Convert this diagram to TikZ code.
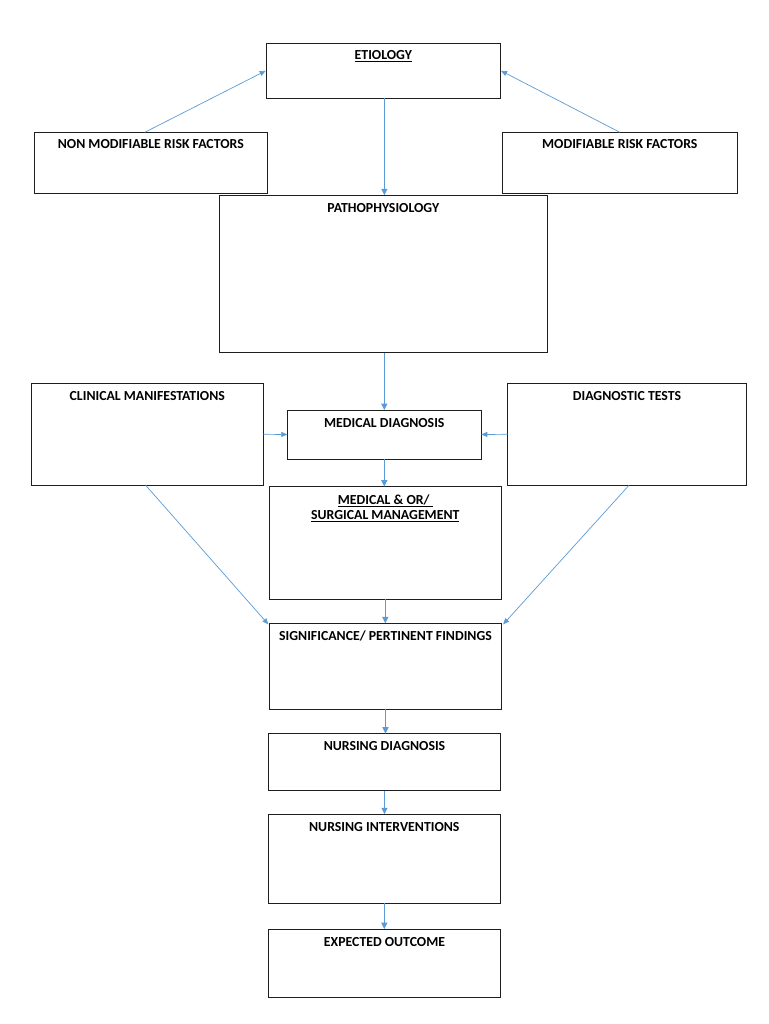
\documentclass[tikz,border=0pt]{standalone}
\usepackage{fontspec}
\setmainfont{Carlito}
\usetikzlibrary{arrows.meta}
\definecolor{arrblue}{RGB}{91,155,213}
\definecolor{boxline}{RGB}{30,30,30}
\tikzset{
  box/.style={draw=boxline, line width=0.9pt, rectangle, anchor=north west, inner sep=0pt, outer sep=0pt},
  lbl/.style={anchor=north, inner sep=0pt, outer sep=0pt, align=center, font=\fontsize{13.8}{15.5}\selectfont\bfseries},
  arr/.style={draw=arrblue, line width=1.3pt, -{Triangle[length=6.5pt,width=6pt]}},
  thinarr/.style={draw=arrblue, line width=0.7pt, -{Triangle[length=6pt,width=5pt]}}
}
\begin{document}
\begin{tikzpicture}[x=1pt,y=-1pt]
\useasboundingbox[fill=white] (0,0) rectangle (768,1024);
% boxes
\node[box, minimum width=233.3pt, minimum height=55pt]  (etio)    at (266.7,43.3) {};
\node[box, minimum width=233pt,   minimum height=61pt]  (nonmod)  at (34.3,132.3) {};
\node[box, minimum width=235pt,   minimum height=61pt]  (mod)     at (502.3,132.3) {};
\node[box, minimum width=328pt,   minimum height=157.4pt] (patho) at (219.3,195.3) {};
\node[box, minimum width=232pt,   minimum height=102pt] (clin)    at (31.3,383.3) {};
\node[box, minimum width=194pt,   minimum height=49pt]  (meddx)   at (287.3,410) {};
\node[box, minimum width=238.6pt, minimum height=102pt] (diag)    at (507.7,383.3) {};
\node[box, minimum width=232pt,   minimum height=112.3pt] (mgmt)  at (269.3,486.7) {};
\node[box, minimum width=232.4pt, minimum height=85.7pt] (signif) at (269.3,623.3) {};
\node[box, minimum width=232.4pt, minimum height=57pt]  (nursdx)  at (268.3,733.7) {};
\node[box, minimum width=232pt,   minimum height=89pt]  (nursint) at (268.3,814.3) {};
\node[box, minimum width=232.4pt, minimum height=68pt]  (expect)  at (268.3,929) {};
% labels
\node[lbl] (etioT)    at ([yshift=-7.5pt]etio.north)    {\underline{ETIOLOGY}};
\node[lbl] (nonmodT)  at ([yshift=-7.5pt]nonmod.north)  {NON MODIFIABLE RISK FACTORS};
\node[lbl] (modT)     at ([yshift=-7.5pt]mod.north)     {MODIFIABLE RISK FACTORS};
\node[lbl] (pathoT)   at ([yshift=-8pt]patho.north)     {PATHOPHYSIOLOGY};
\node[lbl] (clinT)    at ([yshift=-8pt]clin.north)      {CLINICAL MANIFESTATIONS};
\node[lbl] (meddxT)   at ([yshift=-8pt]meddx.north)     {MEDICAL DIAGNOSIS};
\node[lbl] (diagT)    at ([yshift=-8pt]diag.north)      {DIAGNOSTIC TESTS};
\node[lbl] (mgmtT)    at ([yshift=-8pt]mgmt.north)      {\underline{MEDICAL \& OR/\ }\\[0pt]\underline{SURGICAL MANAGEMENT}};
\node[lbl] (signifT)  at ([yshift=-8pt]signif.north)    {SIGNIFICANCE/ PERTINENT FINDINGS};
\node[lbl] (nursdxT)  at ([yshift=-8pt]nursdx.north)    {NURSING DIAGNOSIS};
\node[lbl] (nursintT) at ([yshift=-8pt]nursint.north)   {NURSING INTERVENTIONS};
\node[lbl] (expectT)  at ([yshift=-8pt]expect.north)    {EXPECTED OUTCOME};
% connectors
\draw[thinarr] ([xshift=-6pt]nonmod.north) -- ([xshift=-1pt]etio.west);
\draw[thinarr] (mod.north) -- ([xshift=1pt]etio.east);
\draw[arr] ([xshift=1pt]etio.south) -- ([xshift=1pt]etio.south |- patho.north);
\draw[arr] ([xshift=1pt]patho.south) -- ([xshift=1pt]patho.south |- meddx.north);
\draw[thinarr] (clin.east) -- (meddx.west);
\draw[thinarr] (diag.west) -- (meddx.east);
\draw[arr] (meddx.south) -- (meddx.south |- mgmt.north);
\draw[arr] (mgmt.south) -- (mgmt.south |- signif.north);
\draw[thinarr] ([xshift=-1.6pt]clin.south) -- ([shift={(-1pt,-1pt)}]signif.north west);
\draw[thinarr] ([xshift=2pt]diag.south) -- ([shift={(1.5pt,-1pt)}]signif.north east);
\draw[arr] (signif.south) -- (signif.south |- nursdx.north);
\draw[arr] (nursdx.south) -- (nursdx.south |- nursint.north);
\draw[arr] (nursint.south) -- (nursint.south |- expect.north);
\end{tikzpicture}
\end{document}
